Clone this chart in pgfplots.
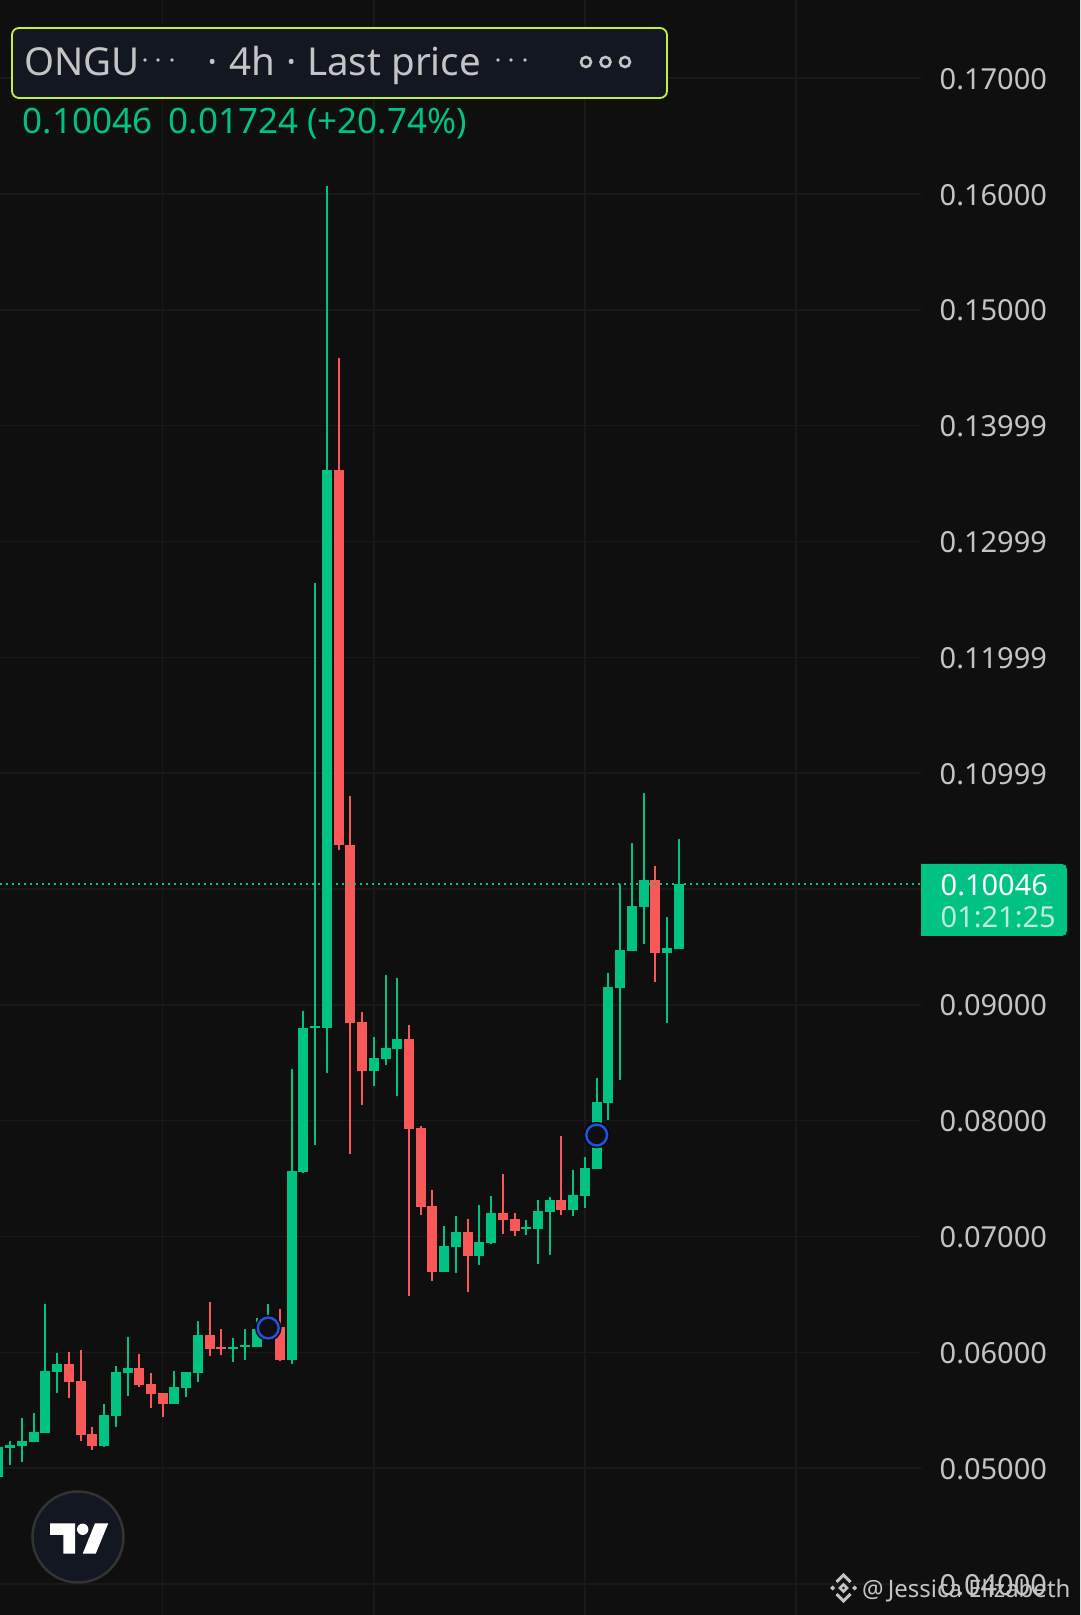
\documentclass[border=0pt]{standalone}
\usepackage{pgfplots}
\usepackage{pgfplotstable}
\usepackage{fontspec}
\pgfplotsset{compat=1.18}
\setmainfont{Noto Sans}
\definecolor{bg}{HTML}{0F0F0F}
\definecolor{gridc}{HTML}{191919}
\definecolor{cg}{HTML}{00C283}
\definecolor{cr}{HTML}{F95858}
\definecolor{lab}{HTML}{C4C4C4}
\definecolor{panel}{HTML}{131722}
\definecolor{lime}{HTML}{BFF23C}
\definecolor{ring}{HTML}{1E53E5}
\definecolor{tagsub}{HTML}{BFEBDA}
\pgfplotstableread{
i o h l c
0 .04924 .05183 .04924 .05183
1 .05174 .05235 .05027 .05200
2 .05191 .05433 .05053 .05235
3 .05226 .05476 .05226 .05312
4 .05304 .06417 .05304 .05839
5 .05830 .05994 .05649 .05899
9 .05191 .05554 .05183 .05459
10 .05450 .05882 .05356 .05830
11 .05822 .06132 .05623 .05865
15 .05554 .05839 .05554 .05701
16 .05692 .05830 .05615 .05830
17 .05822 .06271 .05744 .06150
20 .06029 .06124 .05917 .06046
21 .06046 .06202 .05934 .06063
22 .06046 .06297 .06046 .06202
23 .06202 .06417 .06176 .06219
25 .05934 .08446 .05899 .07566
26 .07557 .08947 .07548 .08800
27 .08800 .12642 .07790 .08817
28 .08800 .16069 .08412 .13618
32 .08429 .08722 .08299 .08541
33 .08533 .09258 .08481 .08628
34 .08619 .09232 .08213 .08705
38 .06694 .07091 .06694 .06918
39 .06910 .07177 .06685 .07039
41 .06832 .07272 .06754 .06953
42 .06944 .07350 .06935 .07203
45 .07065 .07143 .07013 .07082
46 .07065 .07315 .06763 .07220
47 .07212 .07341 .06840 .07315
49 .07229 .07574 .07177 .07358
50 .07350 .07686 .07246 .07592
51 .07583 .08368 .07583 .08161
52 .08153 .09275 .08006 .09154
53 .09145 .10043 .08351 .09474
54 .09465 .10397 .09465 .09853
55 .09845 .10829 .09525 .10078
57 .09448 .09758 .08843 .09491
58 .09482 .10432 .09482 .10046
}\up
\pgfplotstableread{
i o h l c
6 .05899 .06003 .05606 .05744
7 .05753 .06020 .05235 .05286
8 .05295 .05356 .05157 .05191
12 .05865 .05986 .05701 .05718
13 .05727 .05822 .05519 .05640
14 .05649 .05649 .05442 .05554
18 .06150 .06435 .05968 .06029
19 .06046 .06202 .05977 .06029
24 .06219 .06374 .05925 .05934
29 .13618 .14585 .10337 .10380
30 .10380 .10803 .07712 .08843
31 .08852 .08938 .08135 .08429
35 .08705 .08826 .06486 .07928
36 .07937 .07954 .07186 .07255
37 .07263 .07402 .06616 .06694
40 .07039 .07151 .06521 .06832
43 .07203 .07540 .07022 .07143
44 .07151 .07203 .07004 .07048
48 .07315 .07868 .07186 .07229
56 .10078 .10199 .09197 .09448
}\down
\begin{document}
\begin{tikzpicture}[x=1pt,y=1pt]
\path[use as bounding box] (0,0) rectangle (1080,1615);
\clip (0,0) rectangle (1080,1615);
\fill[bg] (-3,-3) rectangle (1083,1618);
\begin{axis}[
  at={(0,0)}, anchor=south west, scale only axis,
  width=921pt, height=1615pt,
  xmin=0.13, xmax=78.65, ymin=0.037324, ymax=0.176752,
  axis line style={draw=none},
  major tick length=0pt,
  xtick={14,32,50,68}, xticklabels={},
  ytick={0.04,0.05,0.06,0.07,0.08,0.09,0.10,0.11,0.12,0.13,0.14,0.15,0.16,0.17},
  yticklabels={0.04000,0.05000,0.06000,0.07000,0.08000,0.09000,{},0.10999,0.11999,0.12999,0.13999,0.15000,0.16000,0.17000},
  yticklabel pos=right,
  yticklabel style={anchor=west, inner sep=0pt, xshift=18.5pt, yshift=-0.8pt, text=lab, font=\fontsize{29}{31}\selectfont},
  grid=major,
  major grid style={draw=gridc, line width=1.6pt},
]
% wicks
\addplot[draw=none, forget plot, error bars/.cd, y dir=both, y explicit, error mark=none,
  error bar style={draw=cg, line width=2pt}]
  table[x=i, y=o, y error plus expr=\thisrow{h}-\thisrow{o}, y error minus expr=\thisrow{o}-\thisrow{l}] {\up};
\addplot[draw=none, forget plot, error bars/.cd, y dir=both, y explicit, error mark=none,
  error bar style={draw=cr, line width=2pt}]
  table[x=i, y=o, y error plus expr=\thisrow{h}-\thisrow{o}, y error minus expr=\thisrow{o}-\thisrow{l}] {\down};
% bodies
\addplot[draw=none, forget plot, error bars/.cd, y dir=plus, y explicit, error mark=none,
  error bar style={draw=cg, line width=10pt}]
  table[x=i, y=o, y error plus expr=\thisrow{c}-\thisrow{o}, y error minus expr=0] {\up};
\addplot[draw=none, forget plot, error bars/.cd, y dir=plus, y explicit, error mark=none,
  error bar style={draw=cr, line width=10pt}]
  table[x=i, y=c, y error plus expr=\thisrow{o}-\thisrow{c}, y error minus expr=0] {\down};
% last price line
\addplot[cg, line width=2pt, dash pattern=on 2pt off 4pt] coordinates {(0.13,0.10046) (78.65,0.10046)};
% signal circles
\addplot[only marks, mark=*, mark size=13pt, mark options={draw=none, fill=bg}] coordinates {(23,0.06210) (51,0.07876)};
\addplot[only marks, mark=*, mark size=10.4pt, mark options={draw=ring, fill=bg, line width=2.4pt}] coordinates {(23,0.06210) (51,0.07876)};
\end{axis}
% price tag
\fill[cg] (921,679) -- (921,751) -- (1062,751) arc (90:0:5) -- (1067,684) arc (0:-90:5) -- cycle;
\node[anchor=base west, inner sep=0pt, text=white, font=\fontsize{29}{31}\selectfont] at (940.5,719) {0.10046};
\node[anchor=base west, inner sep=0pt, text=tagsub, font=\fontsize{29}{31}\selectfont] at (940.5,687) {01:21:25};
% header box
\draw[lime, fill=panel, line width=1.8pt, rounded corners=7pt] (12,1587) rectangle (667,1517);
\node[anchor=base west, inner sep=0pt, text=lab, font=\fontsize{38.5}{42}\selectfont] at (24,1539) {ONGU};
\node[anchor=base west, inner sep=0pt, text=lab, font=\fontsize{38.5}{42}\selectfont] at (207,1539) {·};
\node[anchor=base west, inner sep=0pt, text=lab, font=\fontsize{38.5}{42}\selectfont] at (229,1539) {4h};
\node[anchor=base west, inner sep=0pt, text=lab, font=\fontsize{38.5}{42}\selectfont] at (286,1539) {·};
\node[anchor=base west, inner sep=0pt, text=lab, font=\fontsize{38.5}{42}\selectfont] at (307,1539) {Last price};
\foreach \x in {145,158,172,498,511,525} \fill[lab] (\x,1555) circle (1.9);
\foreach \x in {586,605.5,625} \draw[lab, line width=2.6pt] (\x,1553) circle (5);
\node[anchor=base west, inner sep=0pt, text=cg, font=\fontsize{35}{38}\selectfont] at (22.5,1481) {0.10046};
\node[anchor=base west, inner sep=0pt, text=cg, font=\fontsize{35}{38}\selectfont] at (168.5,1481) {0.01724 (+20.74\%)};
% TradingView badge
\draw[fill=panel, draw=black!60!gray, line width=2.5pt] (78,78) circle (45.5);
\fill[white] (50,91.7) -- (75,91.7) -- (75,61.3) -- (63.3,61.3) -- (63.3,80) -- (50,80) -- cycle;
\fill[white] (82.7,85.7) circle (5.7);
\fill[white] (95,91.7) -- (108.3,91.7) -- (95.7,61.3) -- (82.7,61.3) -- cycle;
% watermark
\begin{scope}[shift={(843.5,27)}, lab]
\draw[line width=3pt] (-7,6) -- (0,13) -- (7,6);
\draw[line width=3pt] (-7,-6) -- (0,-13) -- (7,-6);
\draw[line width=2.5pt] (-3.5,0) -- (0,3.5) -- (3.5,0) -- (0,-3.5) -- cycle;
\fill (-13.5,0) -- (-11,2.5) -- (-8.5,0) -- (-11,-2.5) -- cycle;
\fill (13.5,0) -- (11,2.5) -- (8.5,0) -- (11,-2.5) -- cycle;
\end{scope}
\node[anchor=base west, inner sep=0pt, text=lab, font=\fontsize{24}{27}\selectfont] at (862,17) {@\,Jessica Elizabeth};
\end{tikzpicture}
\end{document}
